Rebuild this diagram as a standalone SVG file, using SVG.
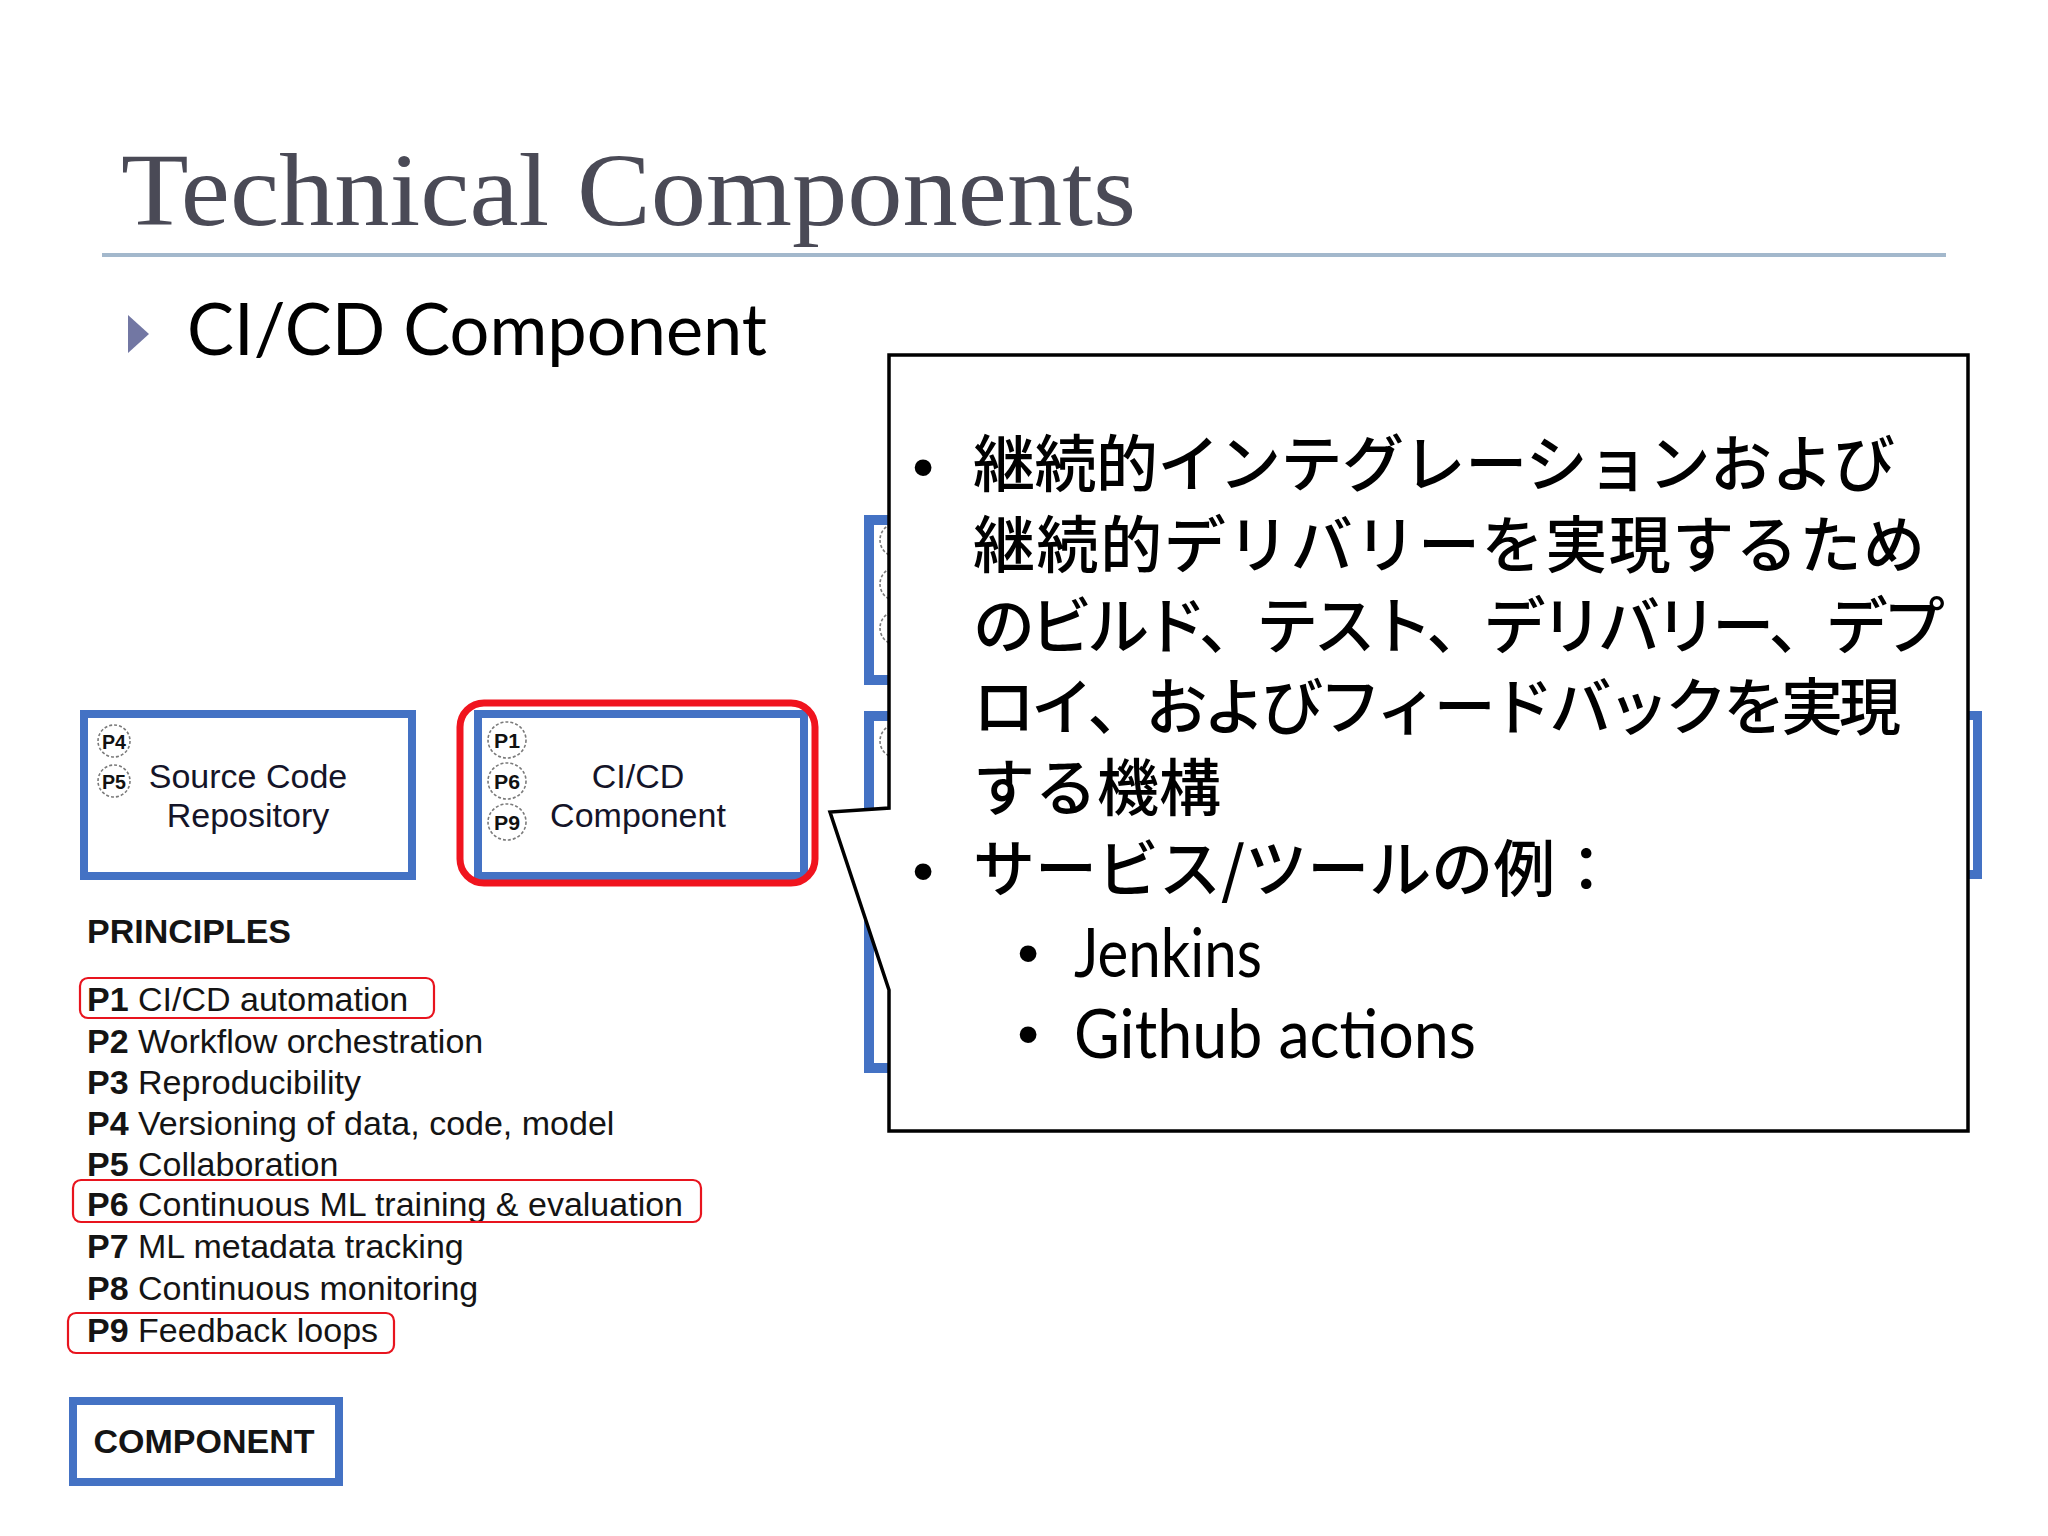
<svg xmlns="http://www.w3.org/2000/svg" width="2048" height="1536" viewBox="0 0 2048 1536">
<style>
.box{fill:#fff;stroke:#4472c4;stroke-width:8}
.hbox{fill:#fff;stroke:#4472c4;stroke-width:10}
.pc{fill:#fff;stroke:#7a7a7a;stroke-width:1.6;stroke-dasharray:3 2}
.cl{stroke:#9a9a9a;stroke-width:1.5}
.pl{font-family:"Liberation Sans",Arial,sans-serif;font-weight:bold;font-size:21px;fill:#111;text-anchor:middle}
.lbl{font-family:"Liberation Sans",Arial,sans-serif;font-size:34px;fill:#141428;text-anchor:middle}
.pr{font-family:"Liberation Sans",Arial,sans-serif;font-size:34px;fill:#141414}
.hl{fill:none;stroke:#e8141e;stroke-width:2.2}
.jp{font-family:"Noto Sans CJK JP","Noto Sans",sans-serif;font-size:62px;font-weight:500;fill:#000}
.en{font-family:Lato,"Liberation Sans",sans-serif;fill:#000}
.bul{font-family:"Liberation Sans",Arial,sans-serif;font-size:62px;fill:#000;text-anchor:middle}
</style>
<rect width="2048" height="1536" fill="#fff"/>

<g id="title">
<text x="121" y="225" font-family="Liberation Serif, serif" font-size="104" fill="#4a4a56" textLength="1015" lengthAdjust="spacingAndGlyphs">Technical Components</text>
<rect x="102" y="253" width="1844" height="4" fill="#a3b8cc"/>
<polygon points="128,315 149,334 128,353" fill="#7277a3"/>
<text x="187" y="355" class="en" font-size="72" textLength="580" lengthAdjust="spacingAndGlyphs">CI/CD Component</text>
</g>

<g id="connectors">
<line class="cl" x1="114" y1="757" x2="114" y2="765"/>
<line class="cl" x1="507" y1="758" x2="507" y2="763"/>
<line class="cl" x1="507" y1="799" x2="507" y2="804"/>
</g>

<g id="node-source-code">
<rect class="box" x="84" y="714" width="328" height="162"/>
<circle class="pc" cx="114" cy="741" r="16"/>
<text class="pl" x="114" y="749" textLength="24" lengthAdjust="spacingAndGlyphs">P4</text>
<circle class="pc" cx="114" cy="781" r="16"/>
<text class="pl" x="114" y="789" textLength="24" lengthAdjust="spacingAndGlyphs">P5</text>
<text class="lbl" x="248" y="788">Source Code</text>
<text class="lbl" x="248" y="827">Repository</text>
</g>

<g id="node-cicd">
<rect class="box" x="478" y="714" width="326" height="162"/>
<ellipse class="pc" cx="507" cy="740" rx="19" ry="18"/>
<text class="pl" x="507" y="748" textLength="26" lengthAdjust="spacingAndGlyphs">P1</text>
<ellipse class="pc" cx="507" cy="781" rx="19" ry="18"/>
<text class="pl" x="507" y="789" textLength="26" lengthAdjust="spacingAndGlyphs">P6</text>
<ellipse class="pc" cx="507" cy="822" rx="19" ry="18"/>
<text class="pl" x="507" y="830" textLength="26" lengthAdjust="spacingAndGlyphs">P9</text>
<text class="lbl" x="638" y="788">CI/CD</text>
<text class="lbl" x="638" y="827">Component</text>
<rect x="460" y="703" width="355" height="180" rx="24" fill="none" stroke="#f0141e" stroke-width="7"/>
</g>

<g id="node-hidden-a">
<rect class="hbox" x="869" y="520" width="300" height="160"/>
<circle class="pc" cx="897" cy="540" r="17"/>
<circle class="pc" cx="897" cy="584" r="17"/>
<circle class="pc" cx="897" cy="628" r="17"/>
</g>
<g id="node-hidden-b">
<rect class="hbox" x="869" y="716" width="300" height="158"/>
<circle class="pc" cx="897" cy="741" r="17"/>
</g>
<g id="node-hidden-c">
<rect class="hbox" x="869" y="917" width="300" height="151"/>
</g>
<g id="node-hidden-right">
<rect x="1700" y="715.5" width="277.5" height="159" fill="#fff" stroke="#4472c4" stroke-width="9"/>
</g>

<g id="principles">
<text class="pr" x="87" y="943" font-weight="bold">PRINCIPLES</text>
<text class="pr" x="87" y="1011"><tspan font-weight="bold">P1</tspan> CI/CD automation</text>
<text class="pr" x="87" y="1053"><tspan font-weight="bold">P2</tspan> Workflow orchestration</text>
<text class="pr" x="87" y="1094"><tspan font-weight="bold">P3</tspan> Reproducibility</text>
<text class="pr" x="87" y="1135"><tspan font-weight="bold">P4</tspan> Versioning of data, code, model</text>
<text class="pr" x="87" y="1176"><tspan font-weight="bold">P5</tspan> Collaboration</text>
<text class="pr" x="87" y="1216"><tspan font-weight="bold">P6</tspan> Continuous ML training &amp; evaluation</text>
<text class="pr" x="87" y="1258"><tspan font-weight="bold">P7</tspan> ML metadata tracking</text>
<text class="pr" x="87" y="1300"><tspan font-weight="bold">P8</tspan> Continuous monitoring</text>
<text class="pr" x="87" y="1342"><tspan font-weight="bold">P9</tspan> Feedback loops</text>
<rect class="hl" x="80" y="978" width="354" height="40" rx="8"/>
<rect class="hl" x="73" y="1180" width="628" height="42" rx="8"/>
<rect class="hl" x="68" y="1313" width="326" height="40" rx="8"/>
</g>

<g id="legend-component">
<rect class="box" x="73" y="1401" width="266" height="81"/>
<text class="pr" x="204" y="1453" font-weight="bold" text-anchor="middle">COMPONENT</text>
</g>

<g id="callout">
<path d="M889,355 H1968 V1131 H889 V990 L830,812 L889,808 Z" fill="#fff" stroke="#000" stroke-width="3.5"/>
<text class="bul" x="923" y="488">•</text>
<text class="jp" x="973" y="487" textLength="922" lengthAdjust="spacing">継続的インテグレーションおよび</text>
<text class="jp" x="973" y="568" textLength="952" lengthAdjust="spacing">継続的デリバリーを実現するため</text>
<text class="jp" x="973" y="649" textLength="972" lengthAdjust="spacing">のビルド、テスト、デリバリー、デプ</text>
<text class="jp" x="973" y="730" textLength="928" lengthAdjust="spacing">ロイ、およびフィードバックを実現</text>
<text class="jp" x="973" y="811">する機構</text>
<text class="bul" x="923" y="892">•</text>
<text class="jp" x="973" y="892">サービス/ツールの例：</text>
<text class="bul" x="1028" y="974">•</text>
<text class="en" x="1074" y="977" font-size="68" textLength="188" lengthAdjust="spacingAndGlyphs">Jenkins</text>
<text class="bul" x="1028" y="1055">•</text>
<text class="en" x="1074" y="1058" font-size="68" textLength="402" lengthAdjust="spacingAndGlyphs">Github actions</text>
</g>
</svg>
